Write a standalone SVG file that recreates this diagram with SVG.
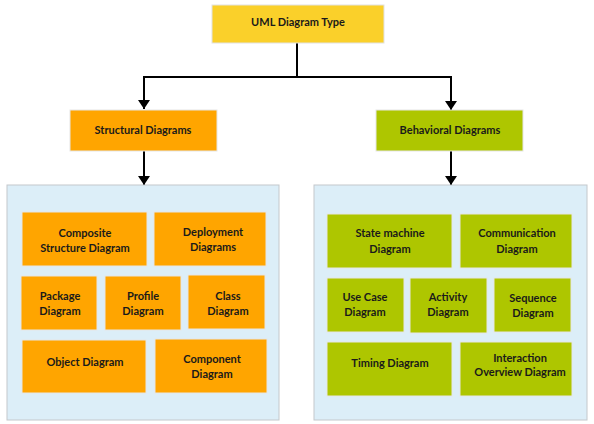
<svg xmlns="http://www.w3.org/2000/svg" width="594" height="424" viewBox="0 0 594 424">
<defs>
<marker id="arr" viewBox="0 0 9 12" refX="9" refY="6" markerWidth="9" markerHeight="12" markerUnits="userSpaceOnUse" orient="auto">
<path d="M0,0 L9,6 L0,12 Z" fill="#000"/>
</marker>
<style>
text{font-family:Lato,"Liberation Sans",sans-serif;font-weight:bold;font-size:11px;fill:#1a1a1a;text-anchor:middle}
.hd{font-size:11px}
.y{fill:#FAD02A;stroke:#e2e2e2;stroke-width:1}
.o{fill:#FFA500;stroke:#e6e6e6;stroke-width:1}
.g{fill:#AEC600;stroke:#e6e6e6;stroke-width:1}
.c{fill:#DCEEF8;stroke:#c4c8cc;stroke-width:1}
.ln{fill:none;stroke:#000;stroke-width:2}
</style>
</defs>
<rect width="594" height="424" fill="#fff"/>
<g id="connectors">
<path class="ln" d="M297,43 V77 H144 V109" marker-end="url(#arr)"/>
<path class="ln" d="M297,77 H451 V110" marker-end="url(#arr)"/>
<path class="ln" d="M144,151 V185" marker-end="url(#arr)"/>
<path class="ln" d="M451,151 V185" marker-end="url(#arr)"/>
</g>
<g id="uml-diagram-type">
<rect class="y" x="212" y="5" width="172" height="38"/>
<text class="hd" x="298" y="26">UML Diagram Type</text>
</g>
<g id="structural">
<rect class="o" x="70" y="110" width="147" height="41"/>
<text class="hd" x="143" y="134">Structural Diagrams</text>
</g>
<g id="behavioral">
<rect class="g" x="376" y="110" width="147" height="41"/>
<text class="hd" x="450" y="134">Behavioral Diagrams</text>
</g>
<g id="structural-group">
<rect class="c" x="7" y="185" width="272" height="235"/>
</g>
<g id="behavioral-group">
<rect class="c" x="314" y="185" width="273" height="235"/>
</g>
<g id="composite">
<rect class="o" x="22" y="212" width="125" height="54"/>
<text x="85" y="237">Composite</text>
<text x="85" y="252">Structure Diagram</text>
</g>
<g id="deployment">
<rect class="o" x="154" y="212" width="112" height="54"/>
<text x="213" y="236">Deployment</text>
<text x="213" y="251">Diagrams</text>
</g>
<g id="package">
<rect class="o" x="21" y="276" width="76" height="54"/>
<text x="60" y="300">Package</text>
<text x="60" y="315">Diagram</text>
</g>
<g id="profile">
<rect class="o" x="105" y="276" width="76" height="54"/>
<text x="143" y="300">Profile</text>
<text x="143" y="315">Diagram</text>
</g>
<g id="class">
<rect class="o" x="188" y="275" width="77" height="54"/>
<text x="228" y="300">Class</text>
<text x="228" y="315">Diagram</text>
</g>
<g id="object">
<rect class="o" x="22" y="340" width="124" height="53"/>
<text x="85" y="366">Object Diagram</text>
</g>
<g id="component">
<rect class="o" x="155" y="339" width="112" height="54"/>
<text x="212" y="363">Component</text>
<text x="212" y="378">Diagram</text>
</g>
<g id="state-machine">
<rect class="g" x="327" y="214" width="125" height="54"/>
<text x="390" y="237">State machine</text>
<text x="390" y="253">Diagram</text>
</g>
<g id="communication">
<rect class="g" x="460" y="214" width="112" height="54"/>
<text x="517" y="237">Communication</text>
<text x="517" y="253">Diagram</text>
</g>
<g id="use-case">
<rect class="g" x="327" y="278" width="77" height="54"/>
<text x="365" y="301">Use Case</text>
<text x="365" y="316">Diagram</text>
</g>
<g id="activity">
<rect class="g" x="410" y="278" width="77" height="55"/>
<text x="448" y="301">Activity</text>
<text x="448" y="316">Diagram</text>
</g>
<g id="sequence">
<rect class="g" x="494" y="278" width="77" height="54"/>
<text x="533" y="302">Sequence</text>
<text x="533" y="317">Diagram</text>
</g>
<g id="timing">
<rect class="g" x="327" y="342" width="125" height="54"/>
<text x="390" y="367">Timing Diagram</text>
</g>
<g id="interaction-overview">
<rect class="g" x="460" y="342" width="112" height="54"/>
<text x="520" y="362">Interaction</text>
<text x="520" y="376">Overview Diagram</text>
</g>
</svg>
